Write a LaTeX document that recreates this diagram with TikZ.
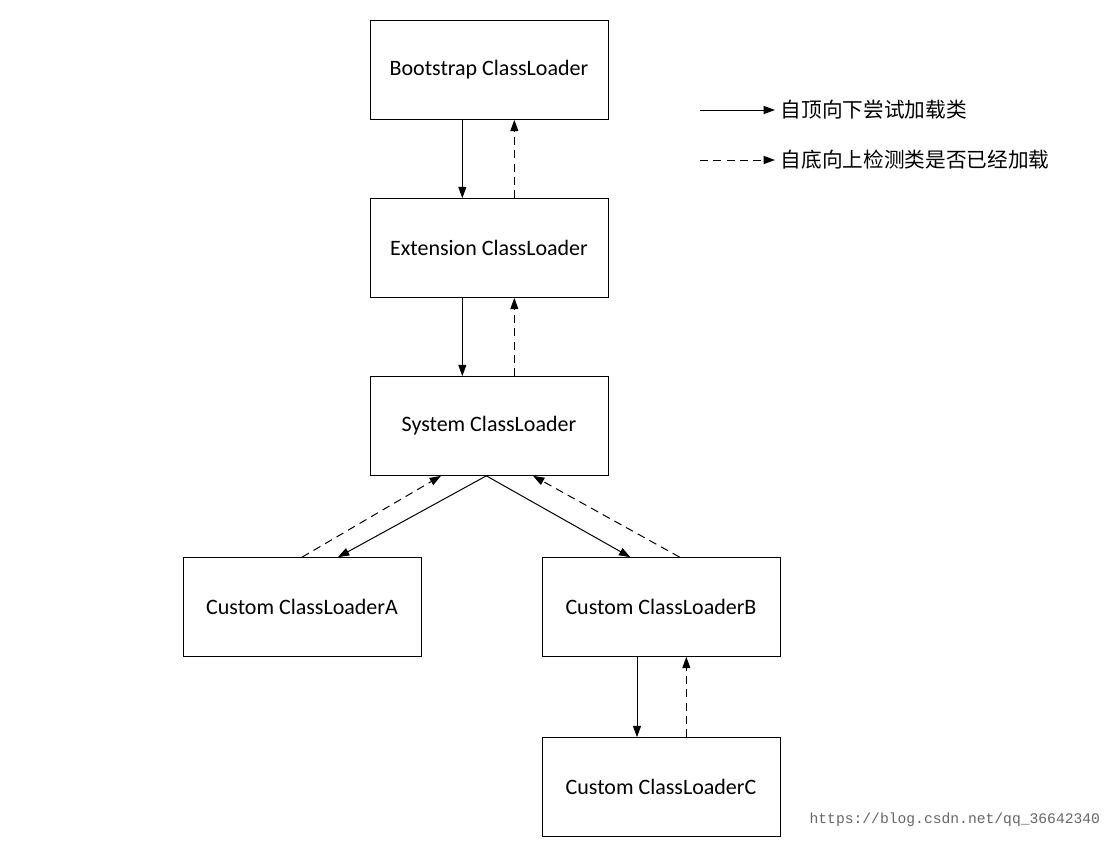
\documentclass[tikz,border=0pt]{standalone}
\usepackage{fontspec}
\setmainfont{Carlito}
\newfontfamily\cjk{Noto Sans CJK SC}
\newfontfamily\wmfont{Liberation Mono}
\usetikzlibrary{arrows.meta}
\tikzset{every picture/.style={line width=0.75pt}}
\tikzset{
  loader/.style={draw, minimum width=178.5pt, minimum height=74pt, font=\fontsize{16.5}{19}\selectfont},
  down/.style={-{Triangle[length=8.5pt,width=6pt]}},
  up/.style={-{Triangle[length=8.5pt,width=6pt]}, dash pattern={on 6pt off 4pt}},
  legend/.style={anchor=west, font=\cjk\fontsize{15.5}{18}\selectfont}
}
\begin{document}
\begin{tikzpicture}[x=0.75pt,y=0.75pt,yscale=-1,xscale=1]
\useasboundingbox (0,0) rectangle (1115,840);

% loaders
\node[loader] (boot) at (489,70) {Bootstrap ClassLoader};
\node[loader] (ext) at (489,248) {Extension ClassLoader};
\node[loader] (sys) at (489,426) {System ClassLoader};
\node[loader] (cla) at (302,607) {Custom ClassLoaderA};
\node[loader] (clb) at (661,607) {Custom ClassLoaderB};
\node[loader] (clc) at (661,787) {Custom ClassLoaderC};

% delegation down, checks up
\draw[down] ([xshift=-20pt]boot.south) -- ([xshift=-20pt]ext.north);
\draw[up] ([xshift=19pt]ext.north) -- ([xshift=19pt]boot.south);
\draw[down] ([xshift=-20pt]ext.south) -- ([xshift=-20pt]sys.north);
\draw[up] ([xshift=19pt]sys.north) -- ([xshift=19pt]ext.south);
\draw[down] ([xshift=-2pt]sys.south) -- ([xshift=27pt]cla.north);
\draw[up] ([xshift=0pt]cla.north) -- ([xshift=-36pt]sys.south);
\draw[down] ([xshift=-2pt]sys.south) -- ([xshift=-23pt]clb.north);
\draw[up] ([xshift=14pt]clb.north) -- ([xshift=33pt]sys.south);
\draw[down] ([xshift=-18pt]clb.south) -- ([xshift=-18pt]clc.north);
\draw[up] ([xshift=19pt]clc.north) -- ([xshift=19pt]clb.south);

% legend
\coordinate (ls1) at (700,110);
\coordinate (le1) at (775,110);
\coordinate (ls2) at (700,160);
\coordinate (le2) at (775,160);
\draw[down] (ls1) -- (le1);
\draw[up] (ls2) -- (le2);
\node[legend] (t1) at (776,110) {自顶向下尝试加载类};
\node[legend] (t2) at (776,160) {自底向上检测类是否已经加载};

% watermark
\node[anchor=east, text=black!60, font=\wmfont\fontsize{11}{13}\selectfont] (wm) at (1105,820) {https://blog.csdn.net/qq\_36642340};
\end{tikzpicture}
\end{document}
